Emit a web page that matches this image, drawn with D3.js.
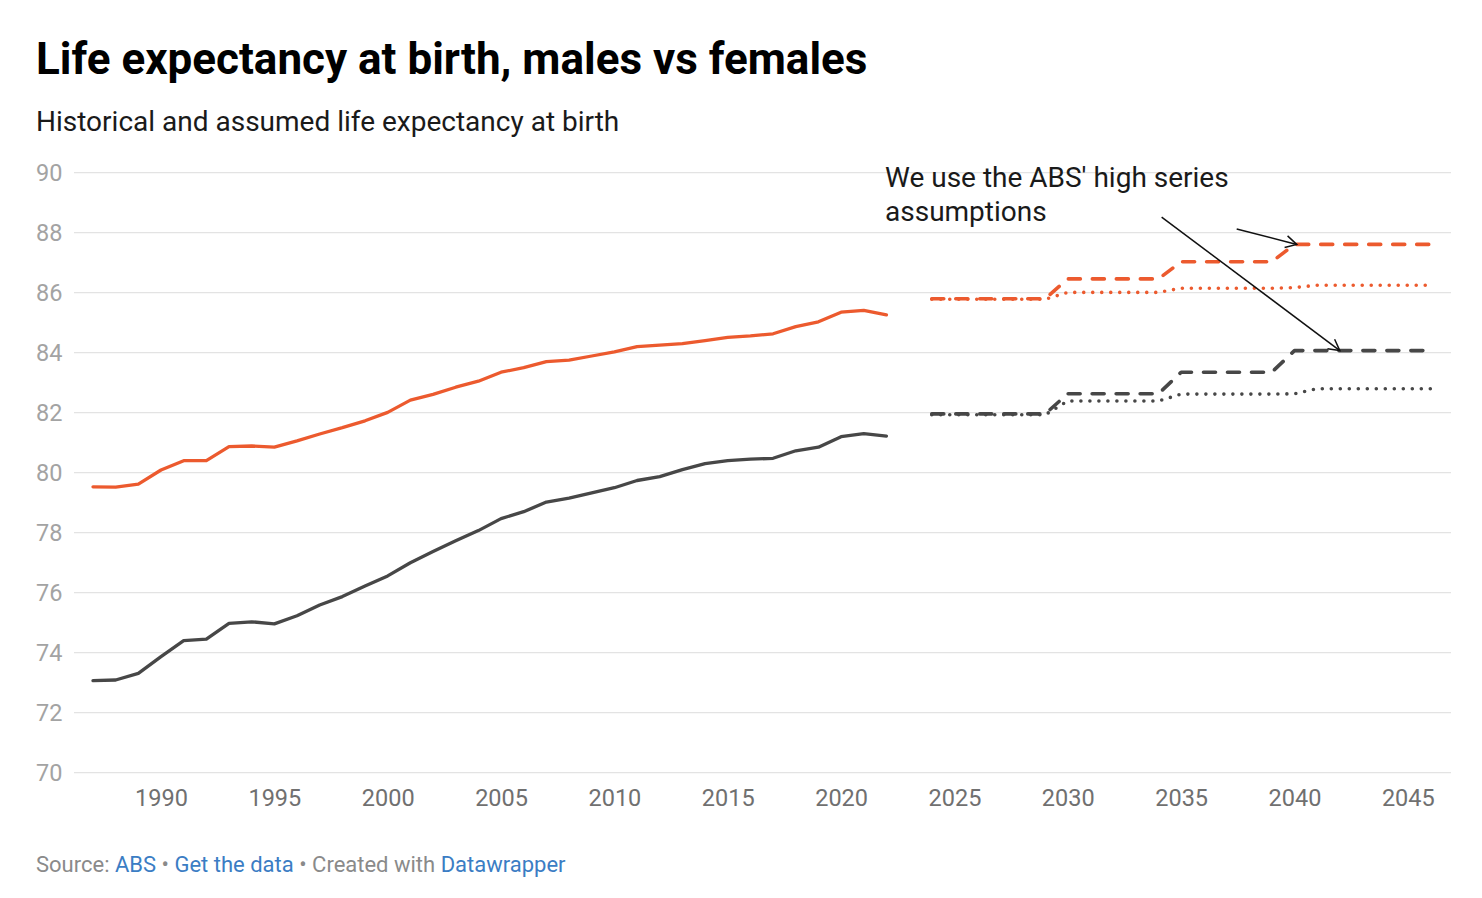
<!DOCTYPE html>
<html>
<head>
    <title>Life expectancy at birth</title>
    <script src="https://d3js.org/d3.v7.min.js"></script>
    <style>
        body {
            margin: 0;
            background: #fff;
            font-family: Roboto, "Noto Sans", Arial, sans-serif;
        }
        .grid line { stroke: #e3e3e3; stroke-width: 1.3; }
        .y-label { fill: #a3a3a3; font-size: 23.5px; }
        .x-label { fill: #707070; font-size: 23.5px; }
        .footer { font-size: 22px; fill: #8a8a8a; }
        .footer .link { fill: #3b7dc4; }
    </style>
</head>
<body>
<svg id="chart" width="1482" height="898"></svg>
<script>
    // historical, 1987-2022
    const histYears = d3.range(1987, 2023);
    const femaleHist = [79.53, 79.52, 79.62, 80.09, 80.4, 80.4, 80.87, 80.89, 80.85, 81.06,
        81.29, 81.5, 81.73, 82.01, 82.42, 82.61, 82.85, 83.05, 83.35, 83.5,
        83.7, 83.75, 83.89, 84.03, 84.2, 84.25, 84.3, 84.4, 84.51, 84.56,
        84.63, 84.87, 85.03, 85.35, 85.41, 85.26];
    const maleHist = [73.07, 73.09, 73.31, 73.87, 74.4, 74.45, 74.98, 75.03, 74.96, 75.23,
        75.59, 75.87, 76.22, 76.56, 77.0, 77.37, 77.73, 78.07, 78.47, 78.7,
        79.02, 79.15, 79.33, 79.5, 79.74, 79.87, 80.1, 80.3, 80.4, 80.45,
        80.48, 80.73, 80.85, 81.2, 81.3, 81.22];

    // assumptions, 2024-2046
    const projYears = d3.range(2024, 2047);
    const femaleHigh = [85.8, 85.8, 85.8, 85.8, 85.8, 85.8,
        86.46, 86.46, 86.46, 86.46, 86.46,
        87.03, 87.03, 87.03, 87.03, 87.03,
        87.61, 87.61, 87.61, 87.61, 87.61, 87.61, 87.61];
    const femaleMed = [85.78, 85.78, 85.78, 85.78, 85.78, 85.78,
        86.01, 86.01, 86.01, 86.01, 86.01,
        86.15, 86.15, 86.15, 86.15, 86.15, 86.17,
        86.25, 86.25, 86.25, 86.25, 86.25, 86.25];
    const maleHigh = [81.96, 81.96, 81.96, 81.96, 81.96, 81.96,
        82.63, 82.63, 82.63, 82.63, 82.63,
        83.35, 83.35, 83.35, 83.35, 83.35,
        84.07, 84.07, 84.07, 84.07, 84.07, 84.07, 84.07];
    const maleMed = [81.93, 81.93, 81.93, 81.93, 81.93, 81.93,
        82.39, 82.39, 82.39, 82.39, 82.39,
        82.62, 82.62, 82.62, 82.62, 82.62, 82.63,
        82.8, 82.8, 82.8, 82.8, 82.8, 82.8];

    const yTicks = [70, 72, 74, 76, 78, 80, 82, 84, 86, 88, 90];
    const xTicks = [1990, 1995, 2000, 2005, 2010, 2015, 2020, 2025, 2030, 2035, 2040, 2045];

    const orange = "#ec5a2e";
    const grey = "#474747";

    const svg = d3.select("#chart");

    const x = d3.scaleLinear().domain([1987, 2046]).range([93, 1430.5]);
    const y = d3.scaleLinear().domain([70, 90]).range([772.7, 172.7]);

    // title + subtitle
    svg.append("text")
        .attr("x", 36).attr("y", 74)
        .style("font-size", "44px").style("font-weight", 700).attr("fill", "#000")
        .text("Life expectancy at birth, males vs females");
    svg.append("text")
        .attr("x", 36).attr("y", 131)
        .style("font-size", "28px").attr("fill", "#1a1a1a")
        .text("Historical and assumed life expectancy at birth");

    // gridlines
    const grid = svg.append("g").attr("class", "grid");
    grid.selectAll("line").data(yTicks).join("line")
        .attr("x1", 74).attr("x2", 1451)
        .attr("y1", d => y(d)).attr("y2", d => y(d));

    svg.append("g").selectAll("text").data(yTicks).join("text")
        .attr("class", "y-label")
        .attr("x", 36).attr("y", d => y(d))
        .attr("dy", "0.35em")
        .text(d => d);

    const xAxis = d3.axisBottom(x).tickValues(xTicks).tickFormat(d3.format("d")).tickSize(0).tickPadding(0);
    const xg = svg.append("g").attr("transform", "translate(0,806)").call(xAxis);
    xg.select(".domain").remove();
    xg.selectAll("text").attr("class", "x-label").attr("dy", 0).attr("fill", null)
        .style("font-family", "Roboto, sans-serif");

    const line = d3.line().x(d => x(d[0])).y(d => y(d[1]));

    function drawSeries(years, values, color, dash, width) {
        svg.append("path")
            .datum(years.map((yr, i) => [yr, values[i]]))
            .attr("fill", "none")
            .attr("stroke", color)
            .attr("stroke-width", width)
            .attr("stroke-linejoin", "round")
            .attr("stroke-linecap", "round")
            .attr("stroke-dasharray", dash)
            .attr("d", line);
    }

    drawSeries(histYears, femaleHist, orange, null, 3.3);
    drawSeries(histYears, maleHist, grey, null, 3.3);
    drawSeries(projYears, femaleMed, orange, "0 9", 3.6);
    drawSeries(projYears, maleMed, grey, "0 9", 3.6);
    drawSeries(projYears, femaleHigh, orange, "12 12", 3.6);
    drawSeries(projYears, maleHigh, grey, "12 12", 3.6);

    // annotation
    const note = svg.append("text")
        .attr("x", 885).attr("y", 187)
        .style("font-size", "28px").attr("fill", "#1a1a1a");
    note.append("tspan").attr("x", 885).text("We use the ABS' high series");
    note.append("tspan").attr("x", 885).attr("dy", 34).text("assumptions");

    svg.append("defs").append("marker")
        .attr("id", "arrow")
        .attr("viewBox", "-12 -7 14 14")
        .attr("refX", 0).attr("refY", 0)
        .attr("markerWidth", 14).attr("markerHeight", 14)
        .attr("markerUnits", "userSpaceOnUse")
        .attr("orient", "auto")
        .append("path")
        .attr("d", "M-11,-6L0,0L-11,6")
        .attr("fill", "none")
        .attr("stroke", "#111")
        .attr("stroke-width", 1.5);

    const arrows = [
        { from: [2034.14, 88.52], to: [2042, 84.07] },
        { from: [2037.45, 88.12], to: [2040.1, 87.61] }
    ];
    svg.append("g").selectAll("line").data(arrows).join("line")
        .attr("x1", d => x(d.from[0])).attr("y1", d => y(d.from[1]))
        .attr("x2", d => x(d.to[0])).attr("y2", d => y(d.to[1]))
        .attr("stroke", "#111")
        .attr("stroke-width", 1.5)
        .attr("marker-end", "url(#arrow)");

    // footer
    const foot = svg.append("text").attr("class", "footer").attr("x", 36).attr("y", 872);
    foot.append("tspan").text("Source: ");
    foot.append("tspan").attr("class", "link").text("ABS");
    foot.append("tspan").text(" • ");
    foot.append("tspan").attr("class", "link").text("Get the data");
    foot.append("tspan").text(" • Created with ");
    foot.append("tspan").attr("class", "link").text("Datawrapper");
</script>
</body>
</html>
